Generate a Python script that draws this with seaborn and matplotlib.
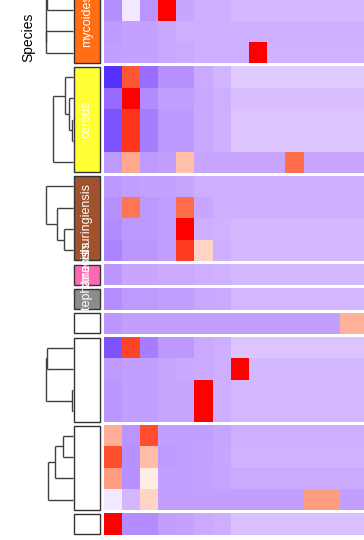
import numpy as np
import pandas as pd
import matplotlib
matplotlib.use("Agg")
import matplotlib.pyplot as plt
import seaborn as sns
from matplotlib.colors import ListedColormap
from matplotlib.patches import Rectangle

# ---------------- data (signed intensity: <0 blue side, >0 red side) -------------
mycoides_rows = [
    [-.35, -.35, -.35, -.35, -.35, -.35, -.35, -.33, -.33, -.33, -.33, -.33, -.33, -.33, -.33],
    [-.48, -.10, -.46, 1.0, -.38, -.34, -.34, -.30, -.30, -.30, -.30, -.30, -.30, -.30, -.30],
    [-.43, -.40, -.40, -.37, -.35, -.35, -.35, -.35, -.35, -.35, -.35, -.35, -.35, -.35, -.35],
    [-.42, -.40, -.40, -.37, -.36, -.35, -.35, -.34, 1.0, -.33, -.33, -.33, -.33, -.33, -.33],
]
cereus_rows = [
    [-.88, .82, -.63, -.47, -.47, -.36, -.32, -.22, -.22, -.22, -.22, -.22, -.22, -.22, -.22],
    [-.64, 1.0, -.50, -.42, -.42, -.37, -.35, -.28, -.28, -.28, -.28, -.28, -.28, -.28, -.28],
    [-.75, .92, -.56, -.44, -.44, -.37, -.35, -.25, -.25, -.25, -.25, -.25, -.25, -.25, -.25],
    [-.75, .92, -.56, -.44, -.44, -.37, -.35, -.25, -.25, -.25, -.25, -.25, -.25, -.25, -.25],
    [-.43, .45, -.43, -.41, .33, -.38, -.38, -.38, -.38, -.38, .72, -.38, -.38, -.38, -.38],
]
thuringiensis_rows = [
    [-.44, -.41, -.40, -.40, -.39, -.35, -.35, -.35, -.35, -.35, -.35, -.35, -.35, -.35, -.35],
    [-.47, .68, -.44, -.42, .72, -.38, -.35, -.35, -.35, -.35, -.35, -.35, -.35, -.35, -.35],
    [-.50, -.44, -.44, -.41, 1.0, -.35, -.33, -.30, -.30, -.30, -.30, -.30, -.30, -.30, -.30],
    [-.53, -.45, -.45, -.42, .90, .22, -.35, -.30, -.30, -.30, -.30, -.30, -.30, -.30, -.30],
]
pink_rows = [
    [-.45, -.38, -.38, -.36, -.36, -.35, -.33, -.30, -.30, -.30, -.30, -.30, -.30, -.30, -.30],
]
gray_rows = [
    [-.49, -.43, -.43, -.41, -.41, -.37, -.36, -.30, -.30, -.30, -.30, -.30, -.30, -.30, -.30],
]
white1_rows = [
    [-.45, -.41, -.41, -.41, -.41, -.41, -.41, -.41, -.41, -.41, -.41, -.41, -.41, .40, .40],
]
white2_rows = [
    [-.75, .88, -.56, -.44, -.44, -.36, -.34, -.25, -.25, -.25, -.25, -.25, -.25, -.25, -.25],
    [-.43, -.41, -.41, -.38, -.37, -.36, -.35, 1.0, -.31, -.31, -.31, -.31, -.31, -.31, -.31],
    [-.45, -.42, -.41, -.39, -.38, 1.0, -.34, -.31, -.31, -.31, -.31, -.31, -.31, -.31, -.31],
    [-.45, -.42, -.41, -.39, -.38, 1.0, -.34, -.31, -.31, -.31, -.31, -.31, -.31, -.31, -.31],
]
white3_rows = [
    [.42, -.46, .85, -.41, -.41, -.41, -.39, -.35, -.35, -.35, -.35, -.35, -.35, -.35, -.35],
    [.85, -.47, .35, -.43, -.42, -.40, -.38, -.33, -.33, -.33, -.33, -.33, -.33, -.33, -.33],
    [.50, -.47, .10, -.42, -.42, -.40, -.39, -.36, -.36, -.36, -.36, -.36, -.36, -.36, -.36],
    [-.10, -.30, .22, -.41, -.41, -.41, -.41, -.41, -.41, -.41, -.41, .50, .50, -.41, -.41],
]
white4_rows = [
    [1.0, -.50, -.50, -.41, -.40, -.36, -.34, -.27, -.27, -.27, -.27, -.27, -.27, -.27, -.27],
]

slice_names = ["mycoides", "cereus", "thuringiensis", "anthracis", "weihenstephanensis", "", "", "", ""]
slice_colors = ["#FF6E12", "#FFFF33", "#A0522D", "#FF69B4", "#8C8C8C", "#FFFFFF", "#FFFFFF", "#FFFFFF", "#FFFFFF"]
slice_rows = [mycoides_rows, cereus_rows, thuringiensis_rows, pink_rows, gray_rows,
              white1_rows, white2_rows, white3_rows, white4_rows]
# dendrogram merges per slice: (child a, child b, height); node ids follow scipy convention
slice_merges = [
    [(2, 3, 27.0), (0, 1, 26.0), (5, 4, 27.5)],
    [(2, 3, 1.5), (1, 5, 4.0), (0, 6, 8.0), (7, 4, 20.0)],
    [(2, 3, 9.0), (1, 4, 16.3), (0, 5, 27.3)],
    [], [], [],
    [(2, 3, 1.0), (0, 1, 26.3), (5, 4, 27.0)],
    [(0, 1, 9.7), (4, 2, 18.0), (5, 3, 24.7)],
    [],
]

# ---------------- colour map: blue - white - red interpolated in LAB ----------------
def _lin(c):
    c = np.asarray(c, float)
    return np.where(c <= 0.04045, c / 12.92, ((c + 0.055) / 1.055) ** 2.4)

def _gam(c):
    c = np.clip(c, 0, 1)
    return np.where(c <= 0.0031308, 12.92 * c, 1.055 * c ** (1 / 2.4) - 0.055)

_M = np.array([[0.4124, 0.3576, 0.1805], [0.2126, 0.7152, 0.0722], [0.0193, 0.1192, 0.9505]])
_WREF = np.array([0.95047, 1.0, 1.08883])

def _f(t):
    d = 6 / 29
    return np.where(t > d ** 3, np.cbrt(t), t / (3 * d * d) + 4 / 29)

def _finv(t):
    d = 6 / 29
    return np.where(t > d, t ** 3, 3 * d * d * (t - 4 / 29))

def rgb2lab(rgb):
    xyz = _M @ _lin(rgb) / _WREF
    fx, fy, fz = _f(xyz)
    return np.array([116 * fy - 16, 500 * (fx - fy), 200 * (fy - fz)])

def lab2rgb(lab):
    L, a, b = lab
    fy = (L + 16) / 116
    xyz = np.array([_finv(fy + a / 500), _finv(fy), _finv(fy - b / 200)]) * _WREF
    return _gam(np.linalg.inv(_M) @ xyz)

lab_b, lab_w, lab_r = rgb2lab([0, 0, 1]), rgb2lab([1, 1, 1]), rgb2lab([1, 0, 0])
cols = []
for v in np.linspace(-1, 1, 256):
    end = lab_b if v < 0 else lab_r
    t = abs(v)
    cols.append(lab2rgb(lab_w + (end - lab_w) * t))
cmap = ListedColormap(cols)

# ---------------- layout (pixels) ----------------
W, H = 364, 540
ROW_H, GAP = 21.3, 3.0
TOP0 = -0.6 - ROW_H
HM_X0, COL_W = 103.5, 18.2
ANN_X0, ANN_X1 = 73.5, 100.0
LEAF_X = 73.0

fig = plt.figure(figsize=(W / 100, H / 100), dpi=100)
fig.patch.set_facecolor("white")
ov = fig.add_axes([0, 0, 1, 1])
ov.set_xlim(0, W)
ov.set_ylim(H, 0)
ov.axis("off")

LINE_C = "#404040"
y = TOP0
for i, (rows, name, col, merges) in enumerate(zip(slice_rows, slice_names, slice_colors, slice_merges)):
    n = len(rows)
    ncol = len(rows[0])
    top, bot = y, y + n * ROW_H
    ax = fig.add_axes([HM_X0 / W, 1 - bot / H, ncol * COL_W / W, n * ROW_H / H])
    sns.heatmap(pd.DataFrame(rows), ax=ax, cmap=cmap, vmin=-1, vmax=1, cbar=False,
                xticklabels=False, yticklabels=False)
    ax.set_xlabel("")
    ax.set_ylabel("")
    # annotation box
    ov.add_patch(Rectangle((ANN_X0, top + 0.6), ANN_X1 - ANN_X0, n * ROW_H - 1.2,
                           facecolor=col, edgecolor="#333333", lw=1.0, zorder=2 + 2 * i))
    if name:
        ov.text((ANN_X0 + ANN_X1) / 2, (top + bot) / 2, name, rotation=90, color="white",
                ha="center", va="center", fontsize=9, family="Liberation Sans", zorder=3 + 2 * i)
    # dendrogram
    pos = {k: top + (k + 0.5) * ROW_H for k in range(n)}
    hgt = {k: 0.0 for k in range(n)}
    for j, (a, b, h) in enumerate(merges):
        xh = LEAF_X - h
        ov.plot([xh, xh], [pos[a], pos[b]], color=LINE_C, lw=1.0, solid_capstyle="butt")
        ov.plot([LEAF_X - hgt[a], xh], [pos[a], pos[a]], color=LINE_C, lw=1.0, solid_capstyle="butt")
        ov.plot([LEAF_X - hgt[b], xh], [pos[b], pos[b]], color=LINE_C, lw=1.0, solid_capstyle="butt")
        pos[n + j] = (pos[a] + pos[b]) / 2
        hgt[n + j] = h
    y = bot + GAP

ov.text(28, 37, "Species", rotation=90, ha="center", va="center", fontsize=10,
        family="Liberation Sans", color="black")

fig.savefig("out.png", dpi=100, facecolor="white")
